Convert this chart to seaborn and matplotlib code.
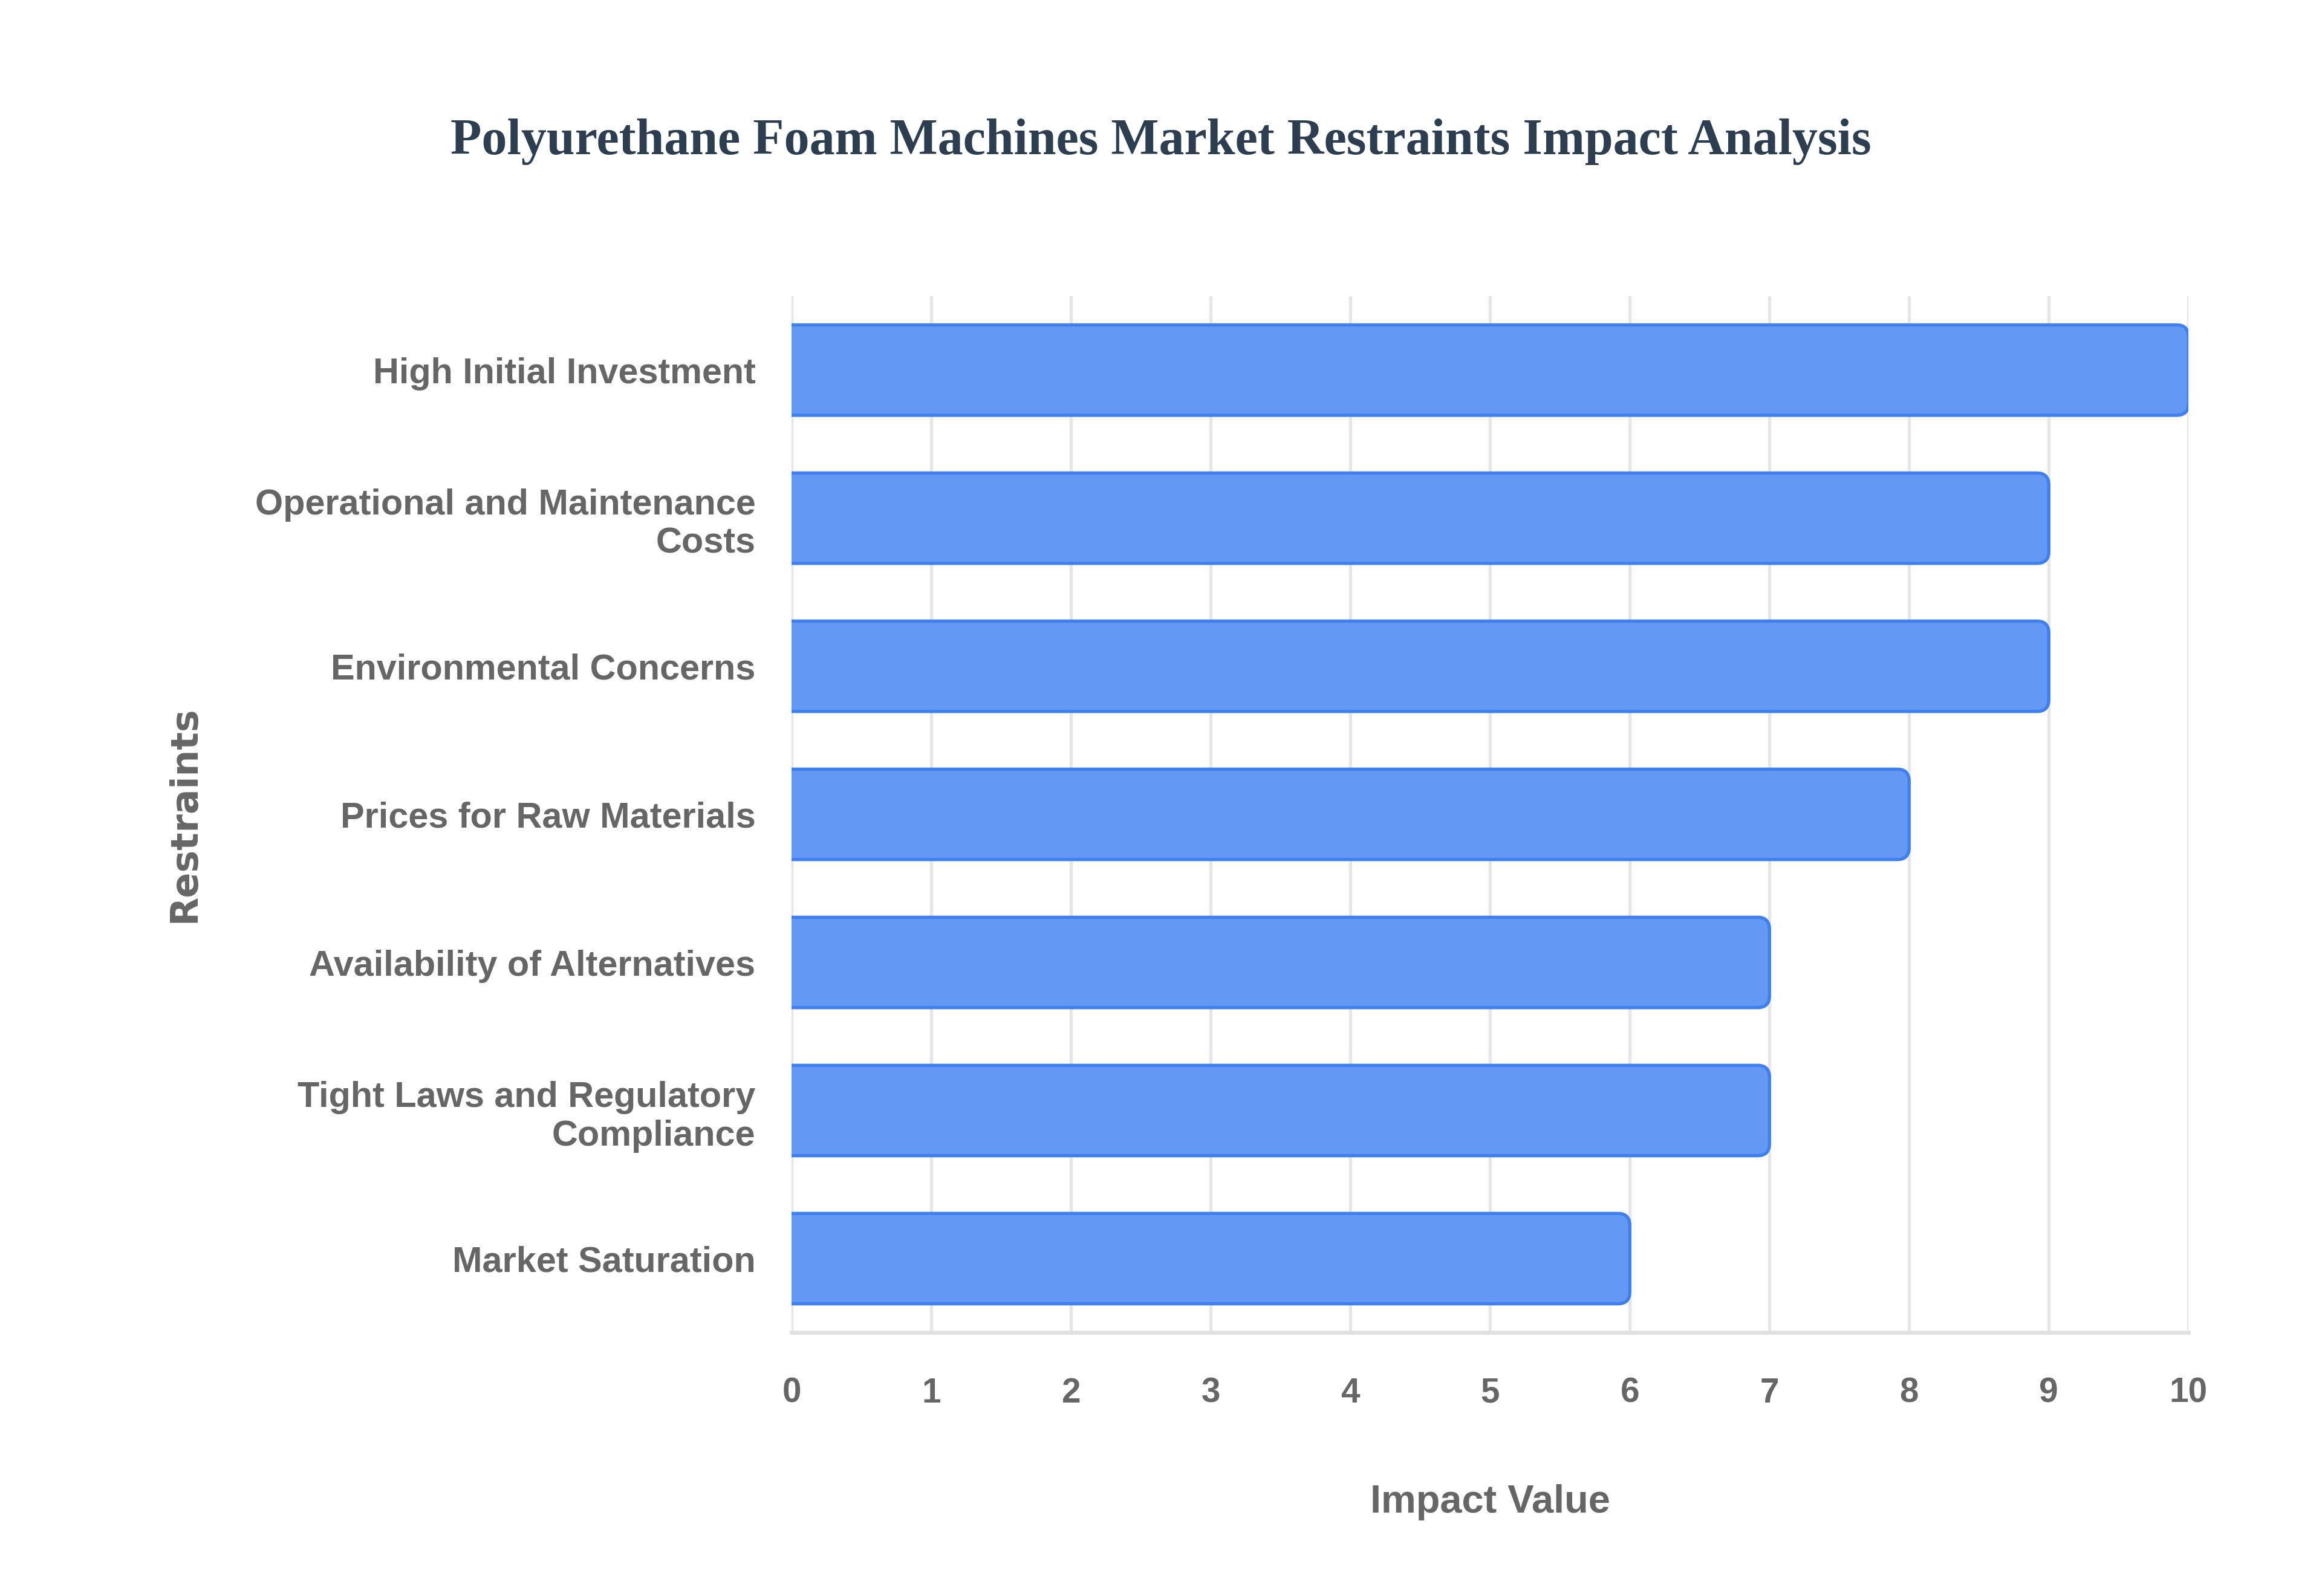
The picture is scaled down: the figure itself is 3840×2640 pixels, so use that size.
import matplotlib
matplotlib.use("Agg")
import matplotlib.pyplot as plt
import seaborn as sns
import pandas as pd
from matplotlib.patches import FancyBboxPatch

restraints = [
    "High Initial Investment",
    "Operational and Maintenance\nCosts",
    "Environmental Concerns",
    "Prices for Raw Materials",
    "Availability of Alternatives",
    "Tight Laws and Regulatory\nCompliance",
    "Market Saturation",
]
impact_values = [10, 9, 9, 8, 7, 7, 6]
x_ticks = [0, 1, 2, 3, 4, 5, 6, 7, 8, 9, 10]

df = pd.DataFrame({"Restraints": restraints, "Impact Value": impact_values})

sns.set_theme(style="white")
plt.rcParams['font.family'] = ['Liberation Sans', 'DejaVu Sans']

fig = plt.figure(figsize=(16, 11), dpi=240)
ax = fig.add_axes([0.341, 0.165, 0.6015, 0.6495])

bar_fill = "#6399f5"
bar_edge = "#3f80ee"
sns.barplot(data=df, y="Restraints", x="Impact Value", orient="h",
            color=bar_fill, width=0.61, ax=ax, saturation=1)

# replace rectangles by bars with rounded right end
patches = list(ax.patches)
for p in patches:
    x0, y0 = p.get_x(), p.get_y()
    w, h = p.get_width(), p.get_height()
    p.remove()
    r = 0.085
    fb = FancyBboxPatch((x0 - 0.3, y0), w + 0.3, h,
                        boxstyle=f"round,pad=0,rounding_size={r}",
                        mutation_aspect=0.95,
                        facecolor=bar_fill, edgecolor=bar_edge,
                        linewidth=1.6, zorder=3, clip_on=True)
    ax.add_patch(fb)
    fb.set_clip_path(ax.patch)

ax.set_xlim(0, 10)
ax.set_ylim(6.5, -0.5)
ax.set_xticks(x_ticks)
ax.set_xticklabels([str(t) for t in x_ticks])

ax.grid(axis="x", color="#e6e6e6", linewidth=1.6, zorder=0)
ax.grid(axis="y", visible=False)
ax.set_axisbelow(True)

for s in ["top", "right", "left"]:
    ax.spines[s].set_visible(False)
ax.spines["bottom"].set_color("#e0e0e0")
ax.spines["bottom"].set_linewidth(2.0)

label_color = "#666666"
ax.tick_params(axis="x", length=6, width=1.6, color="#e6e6e6", pad=16,
               labelsize=17, labelcolor=label_color)
ax.tick_params(axis="y", length=0, pad=18, labelsize=17.8, labelcolor=label_color)
for lab in ax.get_xticklabels() + ax.get_yticklabels():
    lab.set_fontweight("bold")

ax.set_xlabel("Impact Value", fontsize=19.5, fontweight="bold", color=label_color, labelpad=37)
ax.set_ylabel("Restraints", fontsize=18.5, fontweight="bold", color=label_color, labelpad=26,
              family=["DejaVu Sans"])

fig.text(0.5, 0.911, "Polyurethane Foam Machines Market Restraints Impact Analysis",
         ha="center", va="center", fontsize=25.2, fontweight="bold",
         color="#2c3e50", family=["Liberation Serif", "DejaVu Serif"])

fig.savefig("out.png", dpi=240, facecolor="white")
